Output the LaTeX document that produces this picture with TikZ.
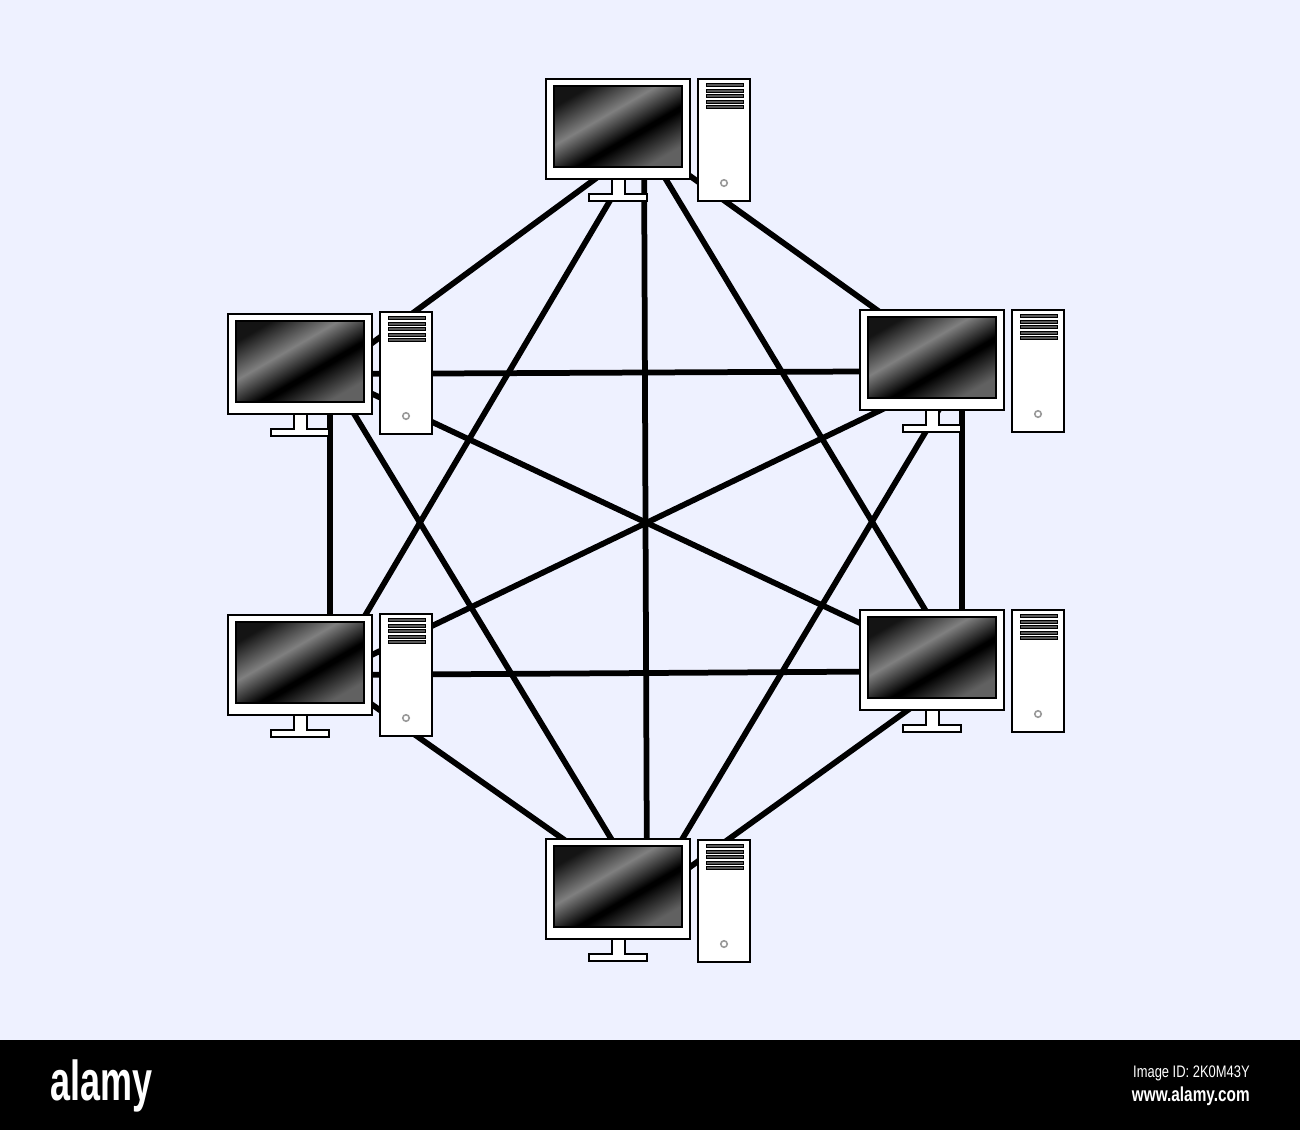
\documentclass[tikz,border=0pt]{standalone}
\usepackage{fontspec}
\usepackage{graphicx}
\setmainfont{Liberation Sans}
\definecolor{pagebg}{HTML}{EEF1FF}
\pgfdeclareverticalshading{screenshade}{100bp}{
    color(0bp)=(black!62!white);
    color(25bp)=(black!62!white);
    color(41bp)=(black);
    color(43bp)=(black);
    color(58bp)=(black!50!white);
    color(75bp)=(black!92!white);
    color(100bp)=(black!92!white)}
\tikzset{
    link/.style={draw, black, line width=0.115cm},
    hub/.style={inner sep=0pt, minimum size=0pt},
    monitor/.style={draw, fill=white, line width=1.1pt, anchor=north west, inner sep=0pt, minimum width=2.88cm, minimum height=2cm},
    screenbox/.style={draw, shade, shading=screenshade, shading angle=30, line width=0.9pt, anchor=north west, inner sep=0pt, minimum width=2.56cm, minimum height=1.62cm},
    tower/.style={draw, fill=white, line width=1.1pt, anchor=north west, inner sep=0pt, minimum width=1.04cm, minimum height=2.44cm},
    vent/.style={draw, fill=black!65, line width=0.7pt, anchor=north west, inner sep=0pt, minimum width=0.74cm, minimum height=0.06cm},
    powerbtn/.style={draw=black!40, fill=white, circle, line width=0.9pt, inner sep=0pt, minimum size=0.13cm}
}
\begin{document}
\begin{tikzpicture}[x=0.02cm, y=-0.02cm]
                \useasboundingbox (0,0) rectangle (1300,1130);
                \fill[pagebg] (0,0) rectangle (1300,1040);
                \fill[black] (0,1040) rectangle (1300,1130);

                \node[hub] (T) at (644,143) {};
                \node[hub] (UL) at (330,374) {};
                \node[hub] (UR) at (962,371) {};
                \node[hub] (LL) at (330,675) {};
                \node[hub] (LR) at (962,671) {};
                \node[hub] (B) at (647,898) {};

                \foreach \a/\b in {T/UL,T/UR,T/LL,T/LR,T/B,UL/UR,UL/LL,UL/LR,UL/B,UR/LL,UR/LR,UR/B,LL/LR,LL/B,LR/B}
                    \draw[link] (\a) -- (\b);

                \foreach \nm/\mx/\my/\ty in {T/545/78/0,UL/227/313/-2,UR/859/309/0,LL/227/614/-1,LR/859/609/0,B/545/838/1}{
                    \begin{scope}[shift={(\mx,\my)}]
                        \draw[fill=white, line width=1.1pt] (67,101) -- (67,116) -- (44,116) -- (44,123) -- (102,123) -- (102,116) -- (80,116) -- (80,101);
                        \node[monitor] (mon\nm) at (0,0) {};
                        \node[screenbox] (scr\nm) at (8,7) {};
                        \node[tower] (box\nm) at (152,\ty) {};
                        \foreach \v in {0,...,4}
                            \node[vent] (vent\nm\v) at (161,5.5*\v+5+\ty) {};
                        \node[powerbtn] (btn\nm) at (179,105+\ty) {};
                    \end{scope}
                }

                \node[white, anchor=base west, inner sep=0pt, font=\bfseries\fontsize{32}{32}\selectfont] (logo) at (50,1100) {\scalebox{0.64}[1]{alamy}};
                \node[white, anchor=base east, inner sep=0pt, font=\fontsize{9.5}{10}\selectfont] (imgid) at (1250,1077) {\scalebox{0.775}[1]{Image ID: 2K0M43Y}};
                \node[white, anchor=base east, inner sep=0pt, font=\bfseries\fontsize{11.5}{12}\selectfont] (site) at (1250,1101) {\scalebox{0.76}[1]{www.alamy.com}};
            \end{tikzpicture}
\end{document}
